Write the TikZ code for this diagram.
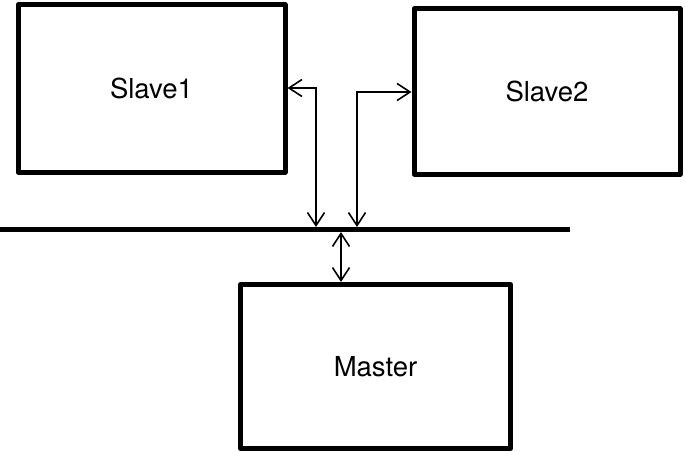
\documentclass[tikz,border=0pt]{standalone}
\usepackage{fontspec}
\setmainfont{TeX Gyre Heros}
\usetikzlibrary{arrows.meta}
\begin{document}
\begin{tikzpicture}[x=1pt,y=-1pt,
  unit/.style={draw=black, line width=5pt, line join=round, rectangle, inner sep=0pt,
    font=\fontsize{27.5}{33}\selectfont},
  arr/.style={line width=1.6pt, {Straight Barb[length=13pt,width=17pt]}-{Straight Barb[length=13pt,width=17pt]}}
]
\useasboundingbox (0,0) rectangle (685,452);
\node[unit, minimum width=267pt, minimum height=167pt] (slave1) at (151.5,88.5) {Slave1};
\node[unit, minimum width=266pt, minimum height=165pt] (slave2) at (547,91.5) {Slave2};
\node[unit, minimum width=270pt, minimum height=164pt] (master) at (375.5,366.5) {Master};
\node[fill=black, inner sep=0pt, outer sep=0pt, minimum width=570pt, minimum height=5pt] (bus) at (285,229.5) {};
\coordinate (c1) at (316,88);
\coordinate (c2) at (357,92);
\coordinate (c3) at (341,0);
\draw[arr] (slave1.east |- c1) -- (c1) -- (c1 |- bus.north);
\draw[arr] (c2 |- bus.north) -- (c2) -- (slave2.west |- c2);
\draw[arr] (c3 |- bus.south) -- (c3 |- master.north);
\end{tikzpicture}
\end{document}
